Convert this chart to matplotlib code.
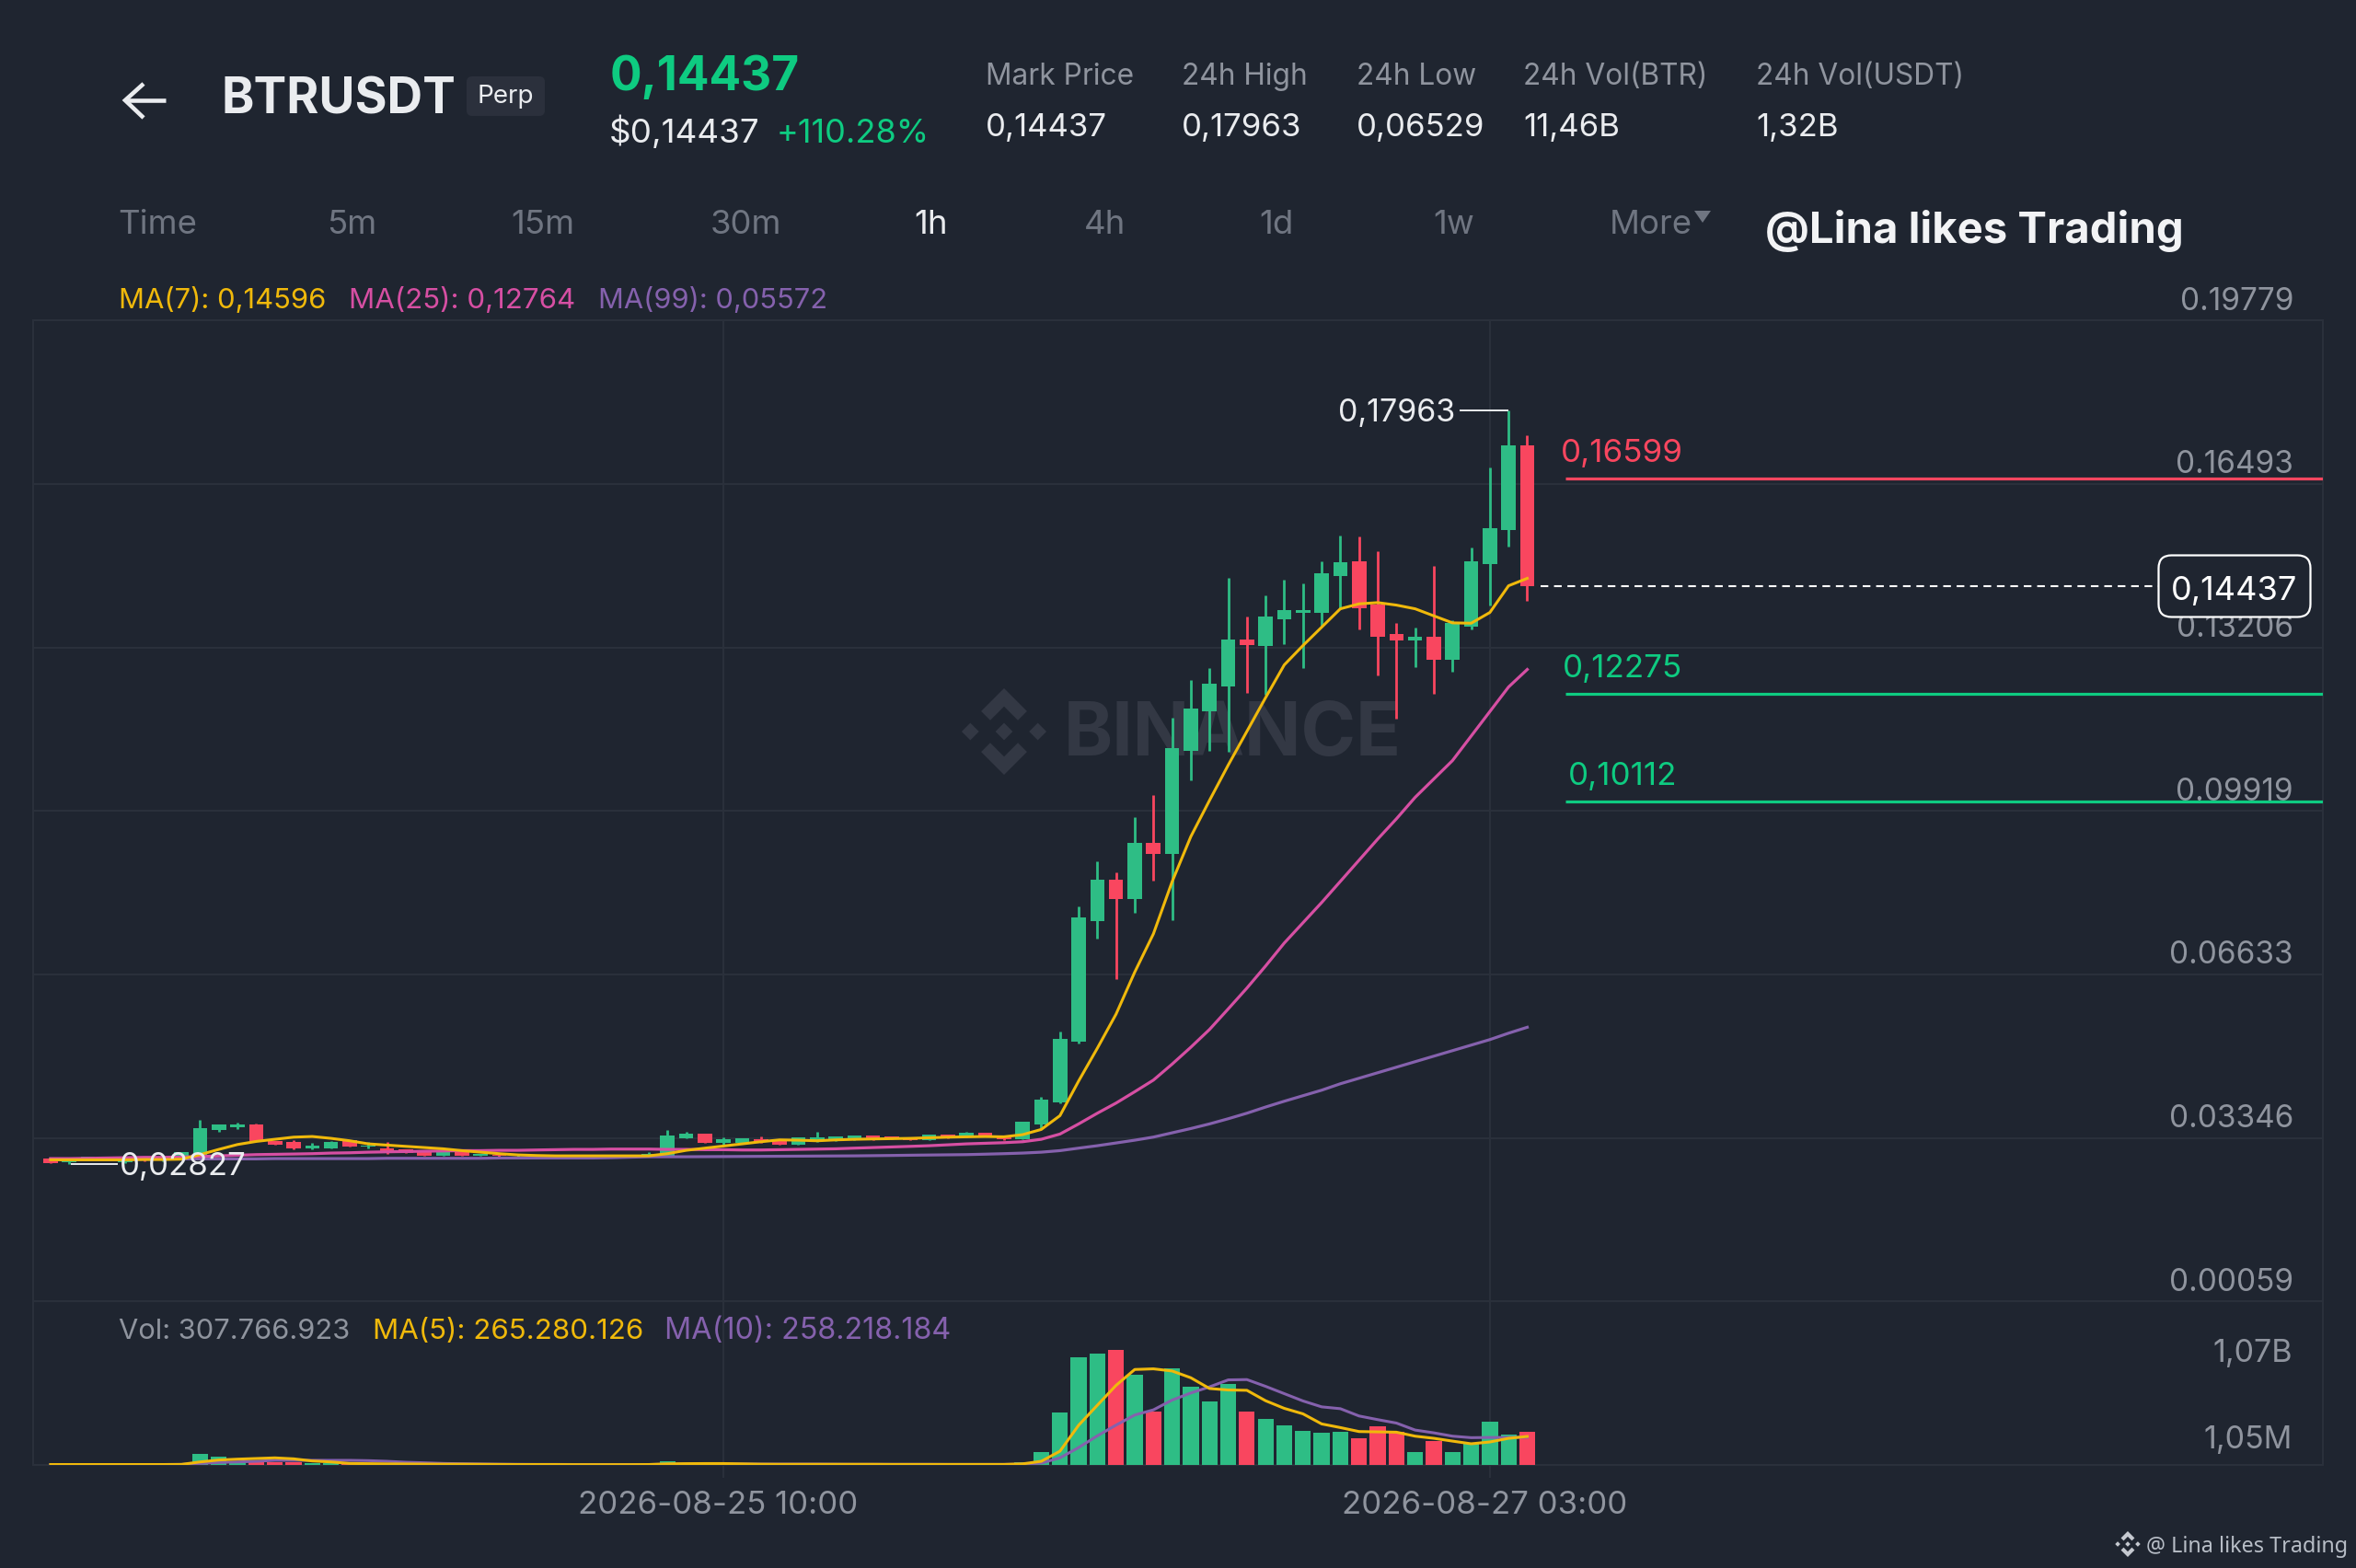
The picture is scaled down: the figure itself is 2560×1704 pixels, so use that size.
import matplotlib
matplotlib.use("Agg")
import matplotlib.pyplot as plt
from matplotlib.patches import Polygon, FancyBboxPatch
from matplotlib.transforms import ScaledTranslation

# ---------- data ----------
opens = [.02926,.02858,.02900,.02969,.02858,.02920,.02890,.02920,.02920,.03499,
 .03555,.03616,.03277,.03259,.03135,.03135,.03302,.03178,.03135,.03117,
 .03092,.02994,.03055,.02987,.03000,.02981,.03000,.02975,.02981,.02994,
 .02975,.02987,.02981,.02994,.03345,.03425,.03246,.03246,.03327,.03302,
 .03215,.03277,.03290,.03302,.03400,.03370,.03351,.03302,.03419,.03364,
 .03450,.03382,.03320,.03616,.04060,.05275,.07709,.08541,.08153,.09281,
 .09047,.11130,.11919,.12425,.13368,.13245,.13769,.13898,.13910,.14650,
 .14934,.14077,.13485,.13343,.13417,.12961,.13633,.14878,.15562,.17263]
closes = [.02846,.02880,.02969,.02920,.02920,.02890,.02926,.03068,.03548,.03610,
 .03622,.03277,.03209,.03135,.03185,.03271,.03166,.03197,.03055,.03043,
 .02994,.03061,.02994,.03018,.02981,.03000,.02975,.02994,.02994,.02975,
 .02987,.02969,.03031,.03394,.03425,.03252,.03314,.03333,.03265,.03215,
 .03351,.03351,.03376,.03400,.03302,.03314,.03302,.03419,.03339,.03444,
 .03382,.03320,.03678,.04109,.05336,.07771,.08541,.08147,.09269,.09047,
 .11186,.11981,.12480,.13368,.13257,.13824,.13960,.13960,.14699,.14928,
 .13997,.13429,.13343,.13417,.12961,.13694,.14934,.15612,.17263,.14437]
highs = [.02932,.02890,.02975,.02975,.02926,.02926,.02932,.03068,.03703,.03616,
 .03659,.03635,.03277,.03302,.03246,.03277,.03302,.03271,.03271,.03117,
 .03092,.03061,.03055,.03018,.03000,.03000,.03000,.02994,.02994,.02994,
 .02987,.02987,.03055,.03499,.03462,.03425,.03351,.03333,.03376,.03302,
 .03351,.03474,.03376,.03400,.03400,.03370,.03351,.03419,.03419,.03469,
 .03450,.03394,.03678,.04171,.05478,.07999,.08899,.08689,.09805,.10243,
 .11796,.12548,.12788,.14601,.13836,.14255,.14570,.14502,.14934,.15451,
 .15433,.15143,.13694,.13602,.14853,.13756,.15223,.16832,.17963,.17467]
lows = [.02846,.02827,.02895,.02914,.02846,.02885,.02885,.02914,.02914,.03462,
 .03518,.03277,.03209,.03117,.03117,.03135,.03166,.03135,.03018,.03043,
 .02994,.02994,.02994,.02987,.02975,.02975,.02975,.02975,.02975,.02975,
 .02975,.02969,.02981,.02994,.03345,.03252,.03215,.03246,.03252,.03209,
 .03215,.03265,.03290,.03302,.03302,.03314,.03302,.03302,.03339,.03351,
 .03382,.03302,.03320,.03548,.04048,.05238,.07346,.06544,.07870,.08517,
 .07728,.10532,.11136,.11118,.12289,.12252,.13282,.12795,.13645,.13984,
 .13565,.12640,.11771,.12807,.12271,.12714,.13577,.14046,.15236,.14138]
ma7 = [.02907,.02907,.02907,.02907,.02907,.02913,.02913,.02920,.03012,.03117,
 .03215,.03277,.03320,.03363,.03376,.03339,.03290,.03228,.03203,.03178,
 .03154,.03129,.03092,.03061,.03031,.03006,.02994,.02987,.02987,.02987,
 .02987,.02987,.02987,.03031,.03098,.03142,.03185,.03228,.03271,.03308,
 .03302,.03290,.03308,.03320,.03327,.03333,.03339,.03351,.03363,.03370,
 .03376,.03370,.03413,.03518,.03795,.04492,.05151,.05835,.06680,.07450,
 .08498,.09404,.10132,.10841,.11519,.12197,.12856,.13245,.13614,.13984,
 .14083,.14108,.14058,.13984,.13842,.13701,.13694,.13910,.14447,.14596]
ma25 = [.02932,.02932,.02938,.02944,.02950,.02957,.02957,.02963,.02975,.02987,
 .03000,.03012,.03018,.03024,.03031,.03043,.03049,.03061,.03068,.03074,
 .03080,.03086,.03092,.03092,.03098,.03098,.03105,.03111,.03117,.03117,
 .03123,.03123,.03123,.03117,.03117,.03111,.03111,.03105,.03105,.03111,
 .03117,.03123,.03129,.03142,.03154,.03166,.03178,.03191,.03209,.03228,
 .03240,.03252,.03271,.03320,.03425,.03629,.03844,.04048,.04276,.04510,
 .04831,.05170,.05527,.05940,.06359,.06803,.07265,.07672,.08079,.08504,
 .08930,.09355,.09762,.10193,.10563,.10933,.11426,.11919,.12412,.12764]
ma99 = [.02920,.02920,.02920,.02920,.02920,.02920,.02926,.02926,.02926,.02926,
 .02926,.02926,.02932,.02932,.02932,.02932,.02932,.02932,.02938,.02938,
 .02938,.02938,.02938,.02938,.02944,.02944,.02944,.02944,.02944,.02944,
 .02950,.02960,.02969,.02969,.02969,.02971,.02973,.02975,.02977,.02979,
 .02981,.02983,.02985,.02987,.02991,.02995,.03000,.03004,.03008,.03012,
 .03021,.03031,.03043,.03061,.03092,.03142,.03191,.03246,.03302,.03364,
 .03450,.03536,.03629,.03733,.03844,.03968,.04085,.04196,.04307,.04436,
 .04547,.04658,.04769,.04880,.04991,.05102,.05213,.05324,.05453,.05572]
volume_m = [3,3,5,4,3,3,4,8,105,74,28,28,28,28,20,20,14,8,8,8,6,6,6,4,3,3,3,3,3,3,
 3,3,8,30,10,8,6,6,6,6,6,6,5,5,5,5,5,5,5,5,5,6,28.5,120,485,1000,1037,1070,841,496,
 903,732,590,758,496,425,368,316,299,311,248,356,305,120,222,120,200,399,285,307.77]
vol_ma5_m = [4,4,4,4,4,4,4,5,28,46,54,60,66,57,37,28,14,12,10,9,8,7,7,6,5,4,4,4,3,3,
 3,3,4,10,12,13,13,10,7,6,6,6,6,6,6,5,5,5,5,5,5,5,10,34,128,370,556,741,889,895,
 875,812,712,698,695,598,527,476,382,348,311,308,305,268,248,222,197,214,248,265.28]
vol_ma10_m = [4,4,4,4,4,4,4,5,14,23,28,34,43,43,43,43,43,40,34,25,20,14,11,9,7,6,5,5,4,4,
 4,4,4,7,8,8,9,9,8,8,8,8,7,6,6,6,6,6,5,5,5,5,8,17,66,162,271,371,465,513,
 604,670,727,792,795,732,664,596,541,524,456,422,390,325,299,268,254,256,256,258.218]
y_tick_values = [0.19779, 0.16493, 0.13206, 0.09919, 0.06633, 0.03346, 0.00059]
y_tick_labels = ["0.19779", "0.16493", "0.13206", "0.09919", "0.06633", "0.03346", "0.00059"]
vol_tick_values = [1070, 1.05]
vol_tick_labels = ["1,07B", "1,05M"]
x_tick_positions = [36, 77]
x_tick_labels = ["2026-08-25 10:00", "2026-08-27 03:00"]
level_red = [0.16599]
levels_green = [0.12275, 0.10112]
last_price = 0.14437
stat_names = ["Mark Price", "24h High", "24h Low", "24h Vol(BTR)", "24h Vol(USDT)"]
stat_values = ["0,14437", "0,17963", "0,06529", "11,46B", "1,32B"]
intervals = ["Time", "5m", "15m", "30m", "1h", "4h", "1d", "1w", "More"]

# ---------- style ----------
BG = "#1f2530"; GRID = "#2a303b"; GREEN = "#2EBD85"; RED = "#F9465F"; BRIGHT = "#0ECB81"
YEL = "#F0B90B"; PINK = "#D64FA3"; PUR = "#8561AD"; TXT = "#EAECEF"; GREY = "#8F949E"; DIM = "#6F7581"
plt.rcParams["font.family"] = ["Inter", "DejaVu Sans"]
W, H = 2560, 1704
fig = plt.figure(figsize=(W/100, H/100), dpi=100, facecolor=BG)

def frac(x0, y0, x1, y1):
    return [x0/W, 1-y1/H, (x1-x0)/W, (y1-y0)/H]

def pixel_axes(z):
    a = fig.add_axes([0, 0, 1, 1], zorder=z)
    a.set_xlim(0, W); a.set_ylim(H, 0); a.axis("off"); a.patch.set_alpha(0)
    return a

back = pixel_axes(0)
ax = fig.add_axes(frac(36, 348.3, 2524, 1414.4), zorder=1)
vax = fig.add_axes(frac(36, 1414.4, 2524, 1592), zorder=1)
top = pixel_axes(5)

def logo(a, cx, cy, r, color):
    def d(x, y, s):
        a.add_patch(Polygon([(cx+x*r, cy+(y-s)*r), (cx+(x+s)*r, cy+y*r), (cx+x*r, cy+(y+s)*r), (cx+(x-s)*r, cy+y*r)], closed=True, fc=color, ec="none"))
    d(0, 0, .2); d(-.78, 0, .2); d(.78, 0, .2)
    for sgn in (1, -1):
        pts = [(0, 1), (.53, .47), (.32, .26), (0, .58), (-.32, .26), (-.53, .47)]
        a.add_patch(Polygon([(cx+p*r, cy-sgn*q*r) for p, q in pts], closed=True, fc=color, ec="none"))

logo(back, 1091, 795, 47, "#333844")
back.text(1156, 821, "BINANCE", fontsize=58, fontweight="bold", color="#333844", va="baseline")

x_left = (36-55)/20.31
x_right = (2524-55)/20.31
xs = list(range(len(opens)))
for a in (ax, vax):
    a.set_facecolor("none")
    a.set_xlim(x_left, x_right)
    a.set_axisbelow(True)
    for s in a.spines.values():
        s.set_color(GRID); s.set_linewidth(1.5)
    a.yaxis.tick_right()
    a.tick_params(length=0)
    a.set_xticks(x_tick_positions)

# main panel
ax.set_ylim(0.00059, 0.19779)
ax.set_yticks(y_tick_values, y_tick_labels)
ax.set_xticklabels([])
ax.grid(True, color=GRID, lw=1.5)
ax.tick_params(axis="y", pad=-23, labelsize=24, labelcolor=GREY)
for lab in ax.get_yticklabels():
    lab.set_ha("right"); lab.set_va("baseline")
    lab.set_transform(lab.get_transform() + ScaledTranslation(0, 11.5/100, fig.dpi_scale_trans))

colors = [GREEN if c >= o else RED for o, c in zip(opens, closes)]
ax.vlines(xs, lows, highs, colors=colors, lw=2, zorder=3)
ax.bar(xs, [max(abs(c-o), 0.00012) for o, c in zip(opens, closes)], bottom=[min(o, c) for o, c in zip(opens, closes)],
       width=0.77, color=colors, zorder=3)
ax.plot(xs, ma99, color=PUR, lw=2.3, zorder=4)
ax.plot(xs, ma25, color=PINK, lw=2.3, zorder=4)
ax.plot(xs, ma7, color=YEL, lw=2.2, zorder=4)

ax.hlines(level_red, 81.03, x_right, color=RED, lw=2.3, zorder=3)
ax.hlines(levels_green, 81.03, x_right, color=BRIGHT, lw=2.3, zorder=3)
ax.hlines([last_price], 79.7, (2345-55)/20.31, color="white", lw=1.5, linestyle=(0, (4, 3)), zorder=3)

fs_lvl = 25.2
for v, c, dx in [(level_red[0], RED, 1696), (levels_green[0], BRIGHT, 1698), (levels_green[1], BRIGHT, 1704)]:
    ax.annotate(f"{v:.5f}".replace(".", ","), xy=((dx-55)/20.31, v), xytext=(0, 18), textcoords="offset pixels",
                color=c, fontsize=fs_lvl, va="baseline", ha="left", zorder=6)
ax.annotate("0,17963", xy=(78, 0.17963), xytext=(-58, -12), textcoords="offset pixels", color=TXT, fontsize=24.5,
            ha="right", va="baseline", zorder=6)
ax.hlines([0.17963], 75.38, 78, color=TXT, lw=1.4, zorder=6)
ax.annotate("0,02827", xy=(1.1, 0.02827), xytext=(53, -12), textcoords="offset pixels", color=TXT, fontsize=25,
            ha="left", va="baseline", zorder=6)
ax.hlines([0.02827], 1.1, 3.6, color=TXT, lw=1.4, zorder=6)

# volume panel
vax.set_ylim(0, 1522)
vax.bar(xs, volume_m, width=0.85, color=colors, zorder=3)
vax.plot(xs, vol_ma10_m, color=PUR, lw=2.2, zorder=4)
vax.plot(xs, vol_ma5_m, color=YEL, lw=2.2, zorder=4)
vax.set_yticks(vol_tick_values, vol_tick_labels)
vax.tick_params(axis="y", pad=-24, labelsize=24.5, labelcolor=GREY)
for lab, off in zip(vax.get_yticklabels(), (-13, 18)):
    lab.set_ha("right"); lab.set_va("baseline")
    lab.set_transform(lab.get_transform() + ScaledTranslation(0, off/100, fig.dpi_scale_trans))
vax.set_xticklabels(x_tick_labels)
vax.tick_params(axis="x", pad=20, labelsize=25, labelcolor=GREY)
for lab in vax.get_xticklabels():
    lab.set_transform(lab.get_transform() + ScaledTranslation(-6/100, 0, fig.dpi_scale_trans))
for p in x_tick_positions:
    vax.axvline(p, ymin=-13/177.6, ymax=1, color=GRID, lw=1.5, clip_on=False, zorder=1)
vax.spines["top"].set_visible(False)

# header
def T(x, y, s, size, color, weight="normal", family=None, ha="left"):
    kw = {"family": family} if family else {}
    top.text(x, y, s, fontsize=size, color=color, fontweight=weight, ha=ha, va="baseline", **kw)

top.plot([180, 136], [109, 109], color=TXT, lw=3.3, solid_capstyle="butt")
top.plot([156, 136, 156], [91, 109, 128], color=TXT, lw=3.3, solid_joinstyle="miter", solid_capstyle="butt")
T(241, 123, "BTRUSDT", 38.5, TXT, "bold")
top.add_patch(FancyBboxPatch((512, 88), 75, 33, boxstyle="round,pad=5,rounding_size=6", fc="#2b303c", ec="none"))
T(549, 112, "Perp", 20, TXT, ha="center")
T(663, 98.5, "0,14437", 37, BRIGHT, "bold")
T(662, 155, "$0,14437", 26.5, TXT)
T(844, 155, "+110.28%", 26, BRIGHT)
for x, n, v in zip([1071, 1284, 1474, 1655, 1908], stat_names, stat_values):
    T(x, 92, n, 22.8, GREY)
    T(x, 148, v, 25, TXT)
for x, s in zip([128, 355, 555, 772, 993, 1178, 1368, 1557, 1749], intervals):
    T(x, 254.5, s, 26.3, TXT if s == "1h" else DIM)
top.add_patch(Polygon([(1841, 229), (1859, 229), (1850, 242)], closed=True, fc=DIM, ec="none"))
T(1918, 264, "@Lina likes Trading", 34, "#F2F3F5", "bold")

T(129, 335, "MA(7): 0,14596", 22.3, YEL)
T(379, 335, "MA(25): 0,12764", 22.5, PINK)
T(650, 335, "MA(99): 0,05572", 22.2, PUR)
T(129, 1455, "Vol: 307.766.923", 22.2, GREY)
T(405, 1455, "MA(5): 265.280.126", 22.5, YEL)
T(722, 1455, "MA(10): 258.218.184", 23.3, PUR)

# last price tag
top.add_patch(FancyBboxPatch((2354, 612), 148, 50, boxstyle="round,pad=8.5,rounding_size=14", fc=BG, ec="white", lw=1.6))
T(2428, 652, "0,14437", 26, "white", ha="center")

logo(top, 2312, 1678, 14, "#C5C9D0")
T(2332, 1687, "@ Lina likes Trading", 16.8, "#B7BDC6", family="Noto Sans")

fig.savefig("out.png", dpi=100, facecolor=BG)
